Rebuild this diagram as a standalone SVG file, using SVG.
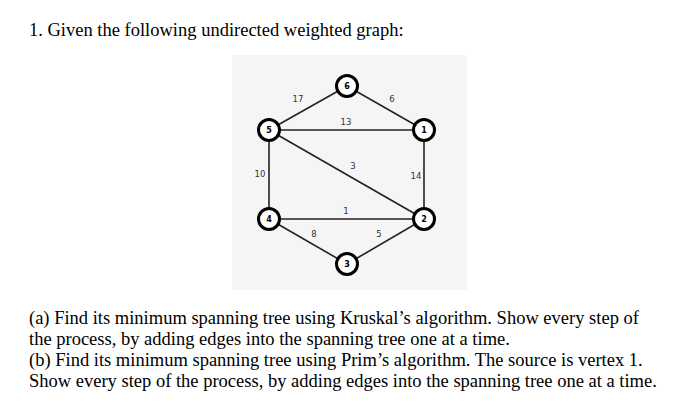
<svg xmlns="http://www.w3.org/2000/svg" width="691" height="409" viewBox="0 0 691 409">
<style>
.t{font-family:"Liberation Serif",serif;font-size:18.5px;fill:#000}
.e{stroke:#222;stroke-width:1.6}
.n circle{fill:#fff;stroke:#000;stroke-width:3}
.n text{font-family:"DejaVu Sans",sans-serif;font-size:8px;font-weight:bold;text-anchor:middle}
.w{font-family:"DejaVu Sans",sans-serif;font-size:8.5px;fill:#333;text-anchor:middle}
</style>
<rect width="691" height="409" fill="#fff"/>
<text class="t" x="29" y="36">1. Given the following undirected weighted graph:</text>
<rect x="232" y="55" width="235" height="235" fill="#f5f5f5"/>
<g id="edges">
<line class="e" x1="269" y1="130" x2="347" y2="86"/>
<line class="e" x1="347" y1="86" x2="424" y2="130"/>
<line class="e" x1="269" y1="130" x2="424" y2="130"/>
<line class="e" x1="269" y1="130" x2="424" y2="219"/>
<line class="e" x1="269" y1="130" x2="269" y2="219"/>
<line class="e" x1="424" y1="130" x2="424" y2="219"/>
<line class="e" x1="269" y1="219" x2="424" y2="219"/>
<line class="e" x1="269" y1="219" x2="347" y2="264"/>
<line class="e" x1="424" y1="219" x2="347" y2="264"/>
<text class="w" x="298" y="102">17</text>
<text class="w" x="392" y="102">6</text>
<text class="w" x="346" y="125">13</text>
<text class="w" x="353" y="169">3</text>
<text class="w" x="260" y="177">10</text>
<text class="w" x="416" y="179">14</text>
<text class="w" x="346" y="214">1</text>
<text class="w" x="314" y="237">8</text>
<text class="w" x="379" y="237">5</text>
</g>
<g id="n6" class="n"><circle cx="347" cy="86" r="10.5"/><text x="347" y="89">6</text></g>
<g id="n5" class="n"><circle cx="269" cy="130" r="10.5"/><text x="269" y="133">5</text></g>
<g id="n1" class="n"><circle cx="424" cy="130" r="10.5"/><text x="424" y="133">1</text></g>
<g id="n4" class="n"><circle cx="269" cy="219" r="10.5"/><text x="269" y="222">4</text></g>
<g id="n2" class="n"><circle cx="424" cy="219" r="10.5"/><text x="424" y="222">2</text></g>
<g id="n3" class="n"><circle cx="347" cy="264" r="10.5"/><text x="347" y="267">3</text></g>
<text class="t" x="29" y="324">(a) Find its minimum spanning tree using Kruskal’s algorithm. Show every step of</text>
<text class="t" x="29" y="345">the process, by adding edges into the spanning tree one at a time.</text>
<text class="t" x="29" y="366">(b) Find its minimum spanning tree using Prim’s algorithm. The source is vertex 1.</text>
<text class="t" x="29" y="387">Show every step of the process, by adding edges into the spanning tree one at a time.</text>
</svg>
